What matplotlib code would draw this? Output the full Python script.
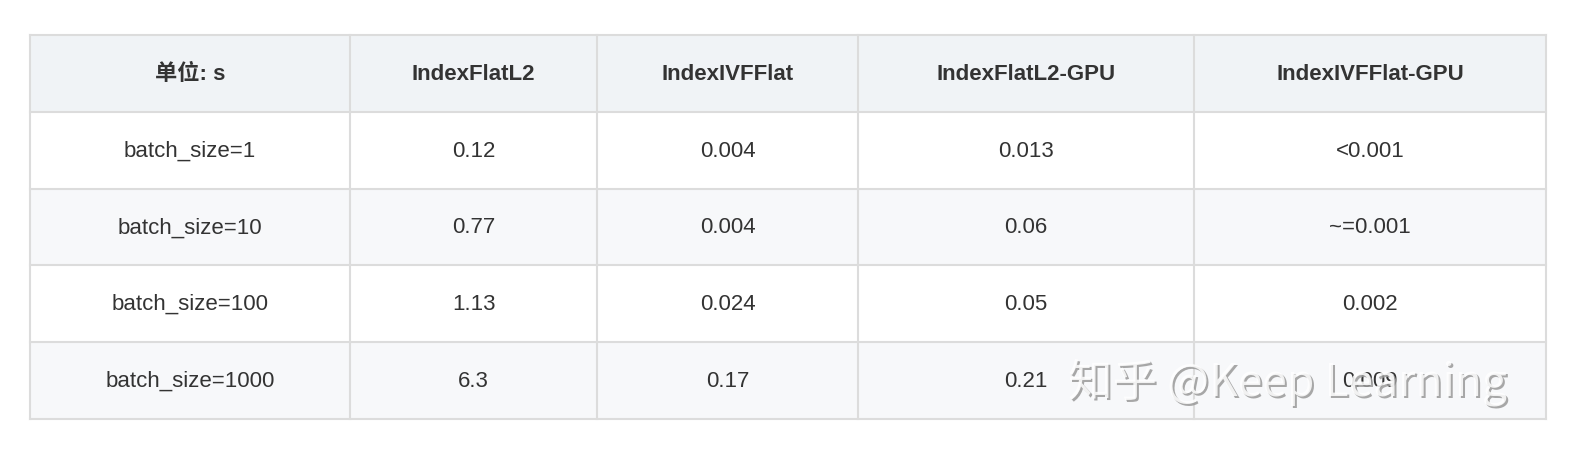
import matplotlib.pyplot as plt
from matplotlib.patches import Rectangle

plt.rcParams['font.family'] = ['Liberation Sans', 'Noto Sans CJK SC', 'DejaVu Sans']

headers = ['单位: s', 'IndexFlatL2', 'IndexIVFFlat', 'IndexFlatL2-GPU', 'IndexIVFFlat-GPU']
row_labels = ['batch_size=1', 'batch_size=10', 'batch_size=100', 'batch_size=1000']
flat_l2 = ['0.12', '0.77', '1.13', '6.3']
ivf_flat = ['0.004', '0.004', '0.024', '0.17']
flat_l2_gpu = ['0.013', '0.06', '0.05', '0.21']
ivf_flat_gpu = ['<0.001', '~=0.001', '0.002', '0.009']

W, H = 1596, 464
col_edges = [30, 350, 597, 858, 1194, 1546]
row_edges = [36, 113, 190, 266, 343, 420]

fig = plt.figure(figsize=(W / 100, H / 100), dpi=100)
ax = fig.add_axes([0, 0, 1, 1])
ax.set_xlim(0, W)
ax.set_ylim(H, 0)
ax.axis('off')

rows = [headers] + [list(r) for r in zip(row_labels, flat_l2, ivf_flat, flat_l2_gpu, ivf_flat_gpu)]
bg = ['#f0f3f6', '#ffffff', '#f7f8fa', '#ffffff', '#f7f8fa']

for i, row in enumerate(rows):
    y0, y1 = row_edges[i], row_edges[i + 1]
    ax.add_patch(Rectangle((col_edges[0], y0), col_edges[-1] - col_edges[0], y1 - y0,
                           facecolor=bg[i], edgecolor='none'))
    for j, txt in enumerate(row):
        xc = (col_edges[j] + col_edges[j + 1]) / 2
        ax.text(xc, (y0 + y1) / 2, txt, ha='center', va='center', fontsize=16,
                color='#333333', fontweight='bold' if i == 0 else 'normal')

for y in row_edges:
    ax.plot([col_edges[0], col_edges[-1]], [y, y], color='#dcdcdc', lw=1.5)
for x in col_edges:
    ax.plot([x, x], [row_edges[0], row_edges[-1]], color='#dcdcdc', lw=1.5)

# watermark
for dx, col in [(2, '#999999'), (0, '#ffffff')]:
    ax.text(1068 + dx, 382 + dx, '知乎 @Keep Learning', ha='left', va='center', fontsize=32,
            color=col, alpha=0.85, family=['Noto Sans CJK SC', 'DejaVu Sans'])

fig.savefig('out.png', dpi=100)
